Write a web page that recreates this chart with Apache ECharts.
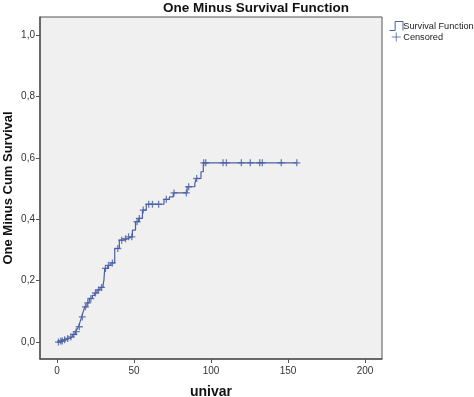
<!DOCTYPE html>
<html>
<head>
<meta charset="utf-8">
<script src="https://cdn.jsdelivr.net/npm/echarts@6/dist/echarts.min.js"></script>
<style>
  html, body { margin: 0; padding: 0; background: #fff; }
  #chart { width: 474px; height: 397px; }
</style>
</head>
<body>
<div id="chart"></div>
<script>
// step function: time of each event and the one-minus-survival value after it
const eventTimes = [0, 2, 4, 6, 8, 10, 12, 13, 14, 15, 16, 17, 18, 19.5, 21, 23, 24.5, 26, 28, 30, 30.5, 31,
  33, 35, 37.5, 40.5, 43, 46, 49, 51, 53, 55.5, 58, 69.5, 73, 75.5, 84.5, 89.5, 90.5, 93.5, 95]
const cumValues = [0, 0.004, 0.008, 0.012, 0.017, 0.025, 0.034, 0.042, 0.05, 0.066, 0.082, 0.098, 0.115, 0.128,
  0.142, 0.152, 0.16, 0.17, 0.178, 0.188, 0.202, 0.24, 0.25, 0.258, 0.305, 0.332, 0.337, 0.343, 0.365, 0.392,
  0.403, 0.43, 0.449, 0.465, 0.473, 0.486, 0.506, 0.517, 0.533, 0.555, 0.584]
const lastTime = 155.7

// censored observation times
const censorTimes = [1, 2.5, 3.5, 5, 7, 9, 11, 12.5, 14.5, 16.5, 18.5, 20, 22, 25, 27, 29, 31.5, 33.5, 36, 39.5,
  42, 44.5, 46.5, 48.6, 52, 53.5, 56, 59.6, 62, 66, 71, 76, 84, 85.5, 90.7, 95.3, 96.6, 107.8, 110, 119.7, 125.5,
  131.6, 133.3, 145.6, 155.7]

const xTicks = [0, 50, 100, 150, 200]
const yTicks = [0, 0.2, 0.4, 0.6, 0.8, 1.0]

const lineColor = "#4a5fa3"

function valueAt(t) {
  let v = 0
  for (let i = 0; i < eventTimes.length; i++) {
    if (eventTimes[i] <= t) v = cumValues[i]
  }
  return v
}

const stepData = eventTimes.map((t, i) => [t, cumValues[i]])
stepData.push([lastTime, cumValues[cumValues.length - 1]])
const censorData = censorTimes.map(t => [t, valueAt(t)])

const chart = echarts.init(document.getElementById("chart"))
const plus = "path://M5,0 L5,10 M0,5 L10,5"

chart.setOption({
  animation: false,
  textStyle: { fontFamily: "Liberation Sans, Arial, sans-serif" },
  title: {
    text: "One Minus Survival Function",
    left: 251,
    textAlign: "center",
    top: -4,
    textStyle: { fontSize: 13.5, fontWeight: "bold", color: "#111" }
  },
  legend: {
    left: 384,
    top: 16,
    orient: "vertical",
    itemGap: 1,
    itemWidth: 14,
    itemHeight: 9,
    textStyle: { fontSize: 9.2, color: "#222", padding: [0, 0, 0, -5] },
    data: [
      { name: "Survival Function", icon: "path://M0,9 L5,9 L5,1 L12,1 L12,9",
        itemStyle: { color: "transparent", borderColor: lineColor, borderWidth: 1 } },
      { name: "Censored", icon: plus,
        itemStyle: { color: "transparent", borderColor: lineColor, borderWidth: 1 } }
    ]
  },
  grid: {
    left: 40, right: 92, top: 17, bottom: 38,
    outerBoundsMode: "none",
    containLabel: false,
    show: true,
    backgroundColor: "#f0f0f0",
    borderColor: "#555",
    borderWidth: 1
  },
  xAxis: {
    type: "value",
    min: -11,
    max: 211,
    name: "univar",
    nameLocation: "middle",
    nameGap: 26,
    nameMoveOverlap: false,
    nameTextStyle: { fontSize: 14, fontWeight: "bold", color: "#111" },
    splitLine: { show: false },
    axisLine: { onZero: false, lineStyle: { color: "#555", width: 1.5 } },
    axisTick: { customValues: xTicks, length: 4, lineStyle: { color: "#555" } },
    axisLabel: { customValues: xTicks, fontSize: 10, color: "#333", margin: 7 }
  },
  yAxis: {
    type: "value",
    min: -0.055,
    max: 1.059,
    name: "One Minus Cum Survival",
    nameLocation: "middle",
    nameGap: 25,
    nameMoveOverlap: false,
    nameTextStyle: { fontSize: 13, fontWeight: "bold", color: "#111" },
    splitLine: { show: false },
    axisLine: { onZero: false, lineStyle: { color: "#555", width: 1.5 } },
    axisTick: { customValues: yTicks, length: 4, lineStyle: { color: "#555" } },
    axisLabel: {
      customValues: yTicks, fontSize: 10, color: "#333", margin: 5,
      formatter: v => v.toFixed(1).replace(".", ",")
    }
  },
  series: [
    {
      name: "Survival Function",
      type: "line",
      step: "end",
      data: stepData,
      showSymbol: false,
      lineStyle: { color: lineColor, width: 1.2 },
      itemStyle: { color: lineColor }
    },
    {
      name: "Censored",
      type: "scatter",
      data: censorData,
      symbol: plus,
      symbolSize: 7,
      itemStyle: { color: "transparent", borderColor: lineColor, borderWidth: 1.3 }
    }
  ]
})
</script>
</body>
</html>
